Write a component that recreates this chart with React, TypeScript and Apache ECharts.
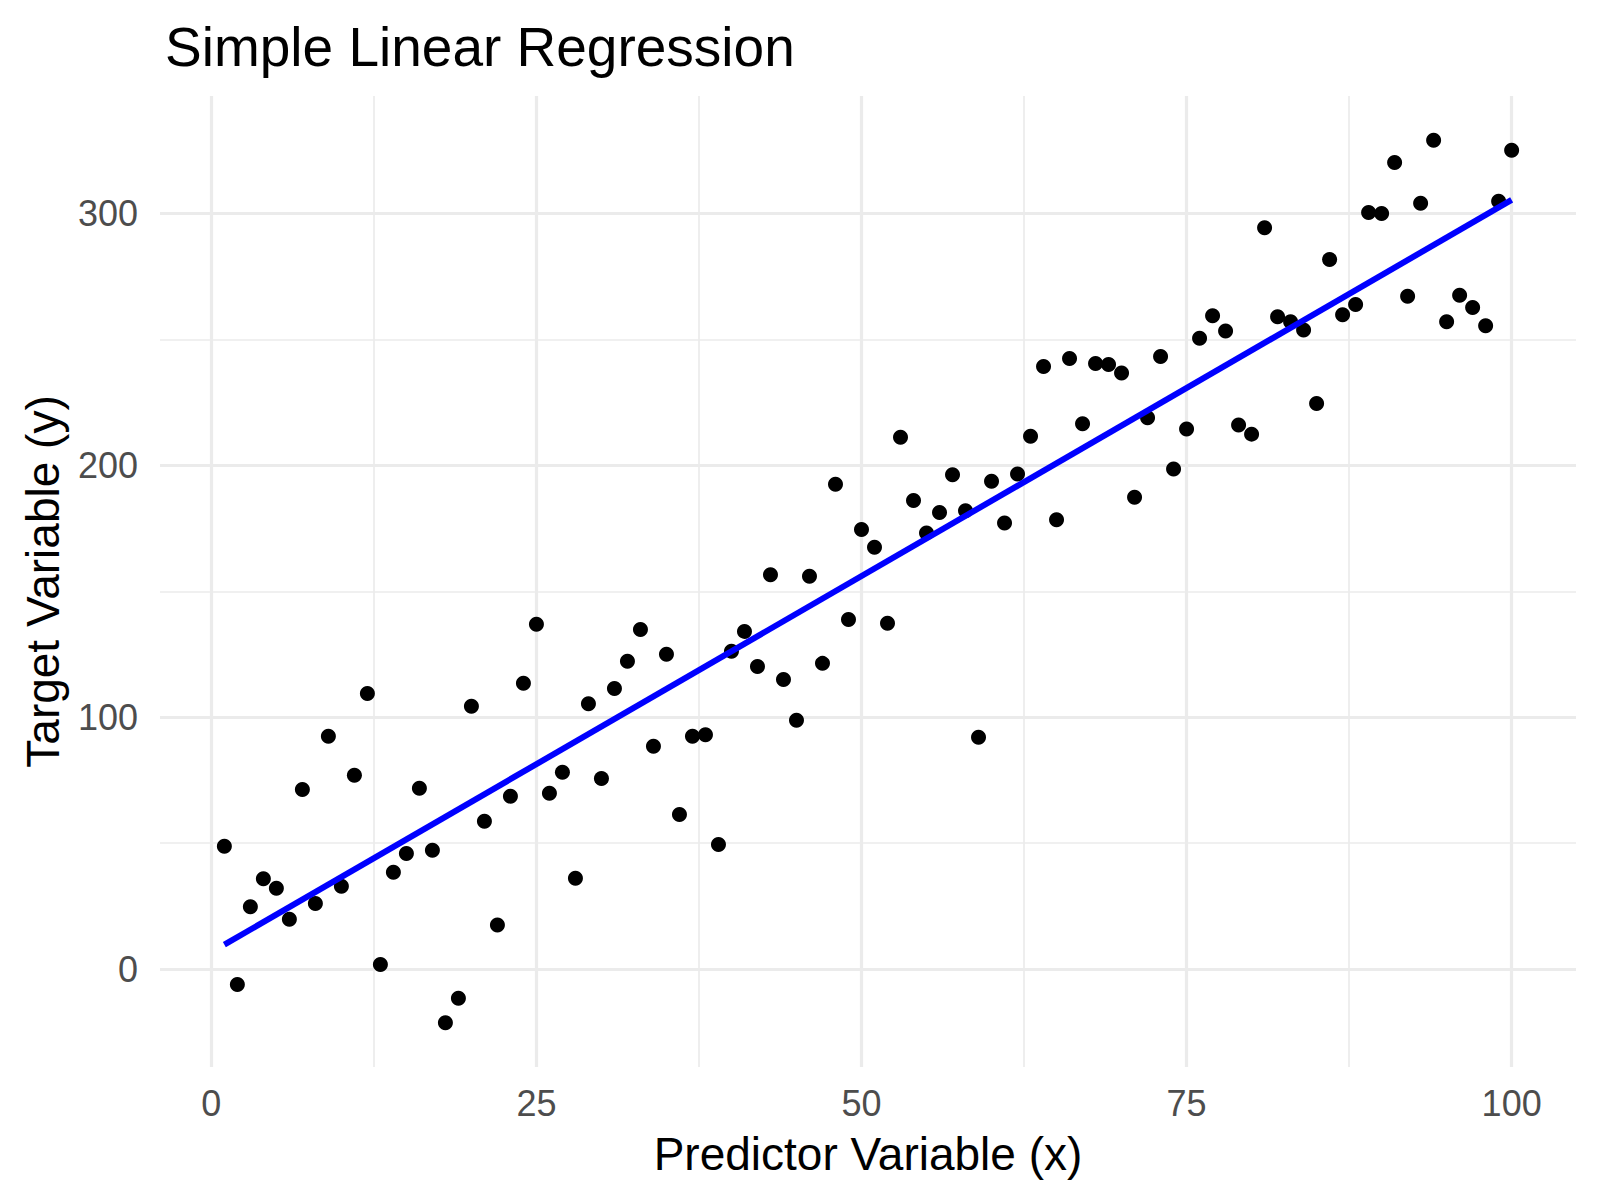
import React, { useEffect, useRef } from "react";
import * as echarts from "echarts";

const xValues = [
  1, 2, 3, 4, 5, 6, 7, 8, 9, 10, 11, 12, 13, 14, 15, 16, 17, 18, 19, 20,
  21, 22, 23, 24, 25, 26, 27, 28, 29, 30, 31, 32, 33, 34, 35, 36, 37, 38, 39, 40,
  41, 42, 43, 44, 45, 46, 47, 48, 49, 50, 51, 52, 53, 54, 55, 56, 57, 58, 59, 60,
  61, 62, 63, 64, 65, 66, 67, 68, 69, 70, 71, 72, 73, 74, 75, 76, 77, 78, 79, 80,
  81, 82, 83, 84, 85, 86, 87, 88, 89, 90, 91, 92, 93, 94, 95, 96, 97, 98, 99, 100,
];

const yValues = [
  48.8, -6.1, 24.8, 35.9, 32.1, 19.8, 71.3, 26.1, 92.5, 32.9,
  77.0, 109.4, 1.9, 38.5, 45.9, 71.8, 47.2, -21.3, -11.5, 104.4,
  58.7, 17.5, 68.7, 113.5, 136.9, 69.8, 78.2, 36.1, 105.4, 75.7,
  111.4, 122.2, 134.8, 88.5, 125.0, 61.4, 92.5, 93.1, 49.5, 126.2,
  134.1, 120.2, 156.6, 115.0, 98.8, 156.0, 121.4, 192.5, 138.8, 174.5,
  167.5, 137.3, 211.2, 186.1, 173.2, 181.3, 196.3, 182.0, 92.1, 193.7,
  177.1, 196.6, 211.6, 239.2, 178.4, 242.4, 216.5, 240.4, 240.0, 236.7,
  187.3, 218.9, 243.2, 198.6, 214.4, 250.5, 259.4, 253.3, 216.0, 212.4,
  294.3, 259.0, 257.0, 253.7, 224.6, 281.7, 259.8, 263.9, 300.4, 300.0,
  320.2, 267.1, 304.0, 329.1, 257.0, 267.5, 262.7, 255.4, 304.8, 325.1,
];

const xMajorTicks = [0, 25, 50, 75, 100];
const xMinorTicks = [12.5, 37.5, 62.5, 87.5];
const yMajorTicks = [0, 100, 200, 300];
const yMinorTicks = [50, 150, 250];

const TITLE = "Simple Linear Regression";
const X_NAME = "Predictor Variable (x)";
const Y_NAME = "Target Variable (y)";

function fitLine(xs: number[], ys: number[]) {
  const n = xs.length;
  const mx = xs.reduce((a, b) => a + b, 0) / n;
  const my = ys.reduce((a, b) => a + b, 0) / n;
  let sxy = 0;
  let sxx = 0;
  for (let i = 0; i < n; i++) {
    sxy += (xs[i] - mx) * (ys[i] - my);
    sxx += (xs[i] - mx) * (xs[i] - mx);
  }
  const slope = sxy / sxx;
  return { slope, intercept: my - slope * mx };
}

export default function App() {
  const ref = useRef<HTMLDivElement>(null);

  useEffect(() => {
    document.body.style.margin = "0";
    if (!ref.current) return;
    const chart = echarts.init(ref.current, undefined, { renderer: "svg" });

    const points = xValues.map((x, i) => [x, yValues[i]]);
    const { slope, intercept } = fitLine(xValues, yValues);
    const xMin = Math.min(...xValues);
    const xMax = Math.max(...xValues);
    const yMin = Math.min(...yValues);
    const yMax = Math.max(...yValues);
    const xPad = (xMax - xMin) * 0.05;
    const yPad = (yMax - yMin) * 0.05;
    const fitData = [
      [xMin, intercept + slope * xMin],
      [xMax, intercept + slope * xMax],
    ];

    const font = "Liberation Sans, Arial, sans-serif";
    const gridColor = "#EBEBEB";
    const major = { color: gridColor, width: 3.2, type: "solid" };
    const minor = { color: gridColor, width: 1.7, type: "solid" };

    const gridLines = [
      ...xMajorTicks.map((v) => ({ xAxis: v, lineStyle: major })),
      ...xMinorTicks.map((v) => ({ xAxis: v, lineStyle: minor })),
      ...yMajorTicks.map((v) => ({ yAxis: v, lineStyle: major })),
      ...yMinorTicks.map((v) => ({ yAxis: v, lineStyle: minor })),
    ];

    chart.setOption({
      animation: false,
      backgroundColor: "#FFFFFF",
      title: {
        text: TITLE,
        left: 160,
        top: 14,
        textStyle: {
          fontFamily: font,
          fontSize: 55,
          fontWeight: "normal",
          color: "#000000",
        },
      },
      grid: { left: 160, right: 24, top: 96, bottom: 133, containLabel: false },
      xAxis: {
        type: "value",
        min: xMin - xPad,
        max: xMax + xPad,
        name: X_NAME,
        nameLocation: "middle",
        nameGap: 64,
        nameTextStyle: { fontFamily: font, fontSize: 46, color: "#000000" },
        axisLine: { show: false },
        axisTick: { show: false },
        splitLine: { show: false },
        axisLabel: {
          customValues: xMajorTicks,
          margin: 18,
          fontFamily: font,
          fontSize: 36,
          color: "#4D4D4D",
        },
      },
      yAxis: {
        type: "value",
        min: yMin - yPad,
        max: yMax + yPad,
        name: Y_NAME,
        nameLocation: "middle",
        nameRotate: 90,
        nameGap: 94,
        nameTextStyle: { fontFamily: font, fontSize: 46, color: "#000000" },
        axisLine: { show: false },
        axisTick: { show: false },
        splitLine: { show: false },
        axisLabel: {
          customValues: yMajorTicks,
          margin: 22,
          fontFamily: font,
          fontSize: 36,
          color: "#4D4D4D",
        },
      },
      series: [
        {
          type: "scatter",
          data: points,
          symbol: "circle",
          symbolSize: 15,
          itemStyle: { color: "#000000", opacity: 1 },
          z: 3,
          silent: true,
          markLine: {
            silent: true,
            z: 1,
            symbol: ["none", "none"],
            label: { show: false },
            animation: false,
            data: gridLines,
          },
        },
        {
          type: "line",
          data: fitData,
          symbol: "none",
          lineStyle: { color: "#0000FF", width: 6 },
          z: 4,
          silent: true,
        },
      ],
    });

    return () => chart.dispose();
  }, []);

  return <div ref={ref} style={{ width: 1600, height: 1200 }} />;
}
